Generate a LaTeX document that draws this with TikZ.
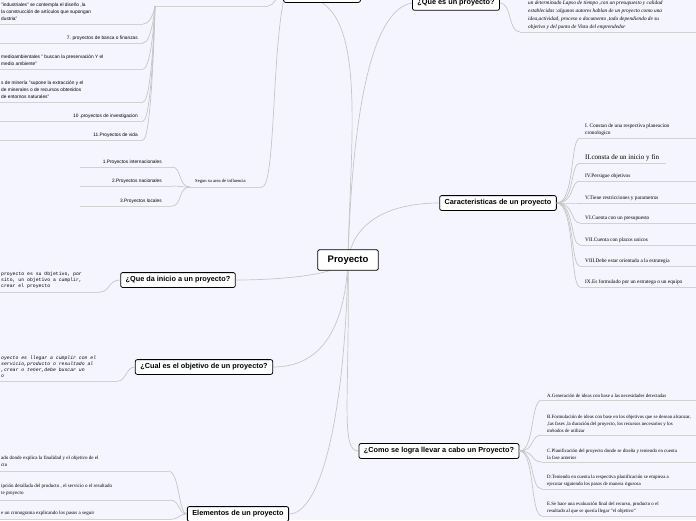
\documentclass[tikz,border=0pt]{standalone}
\usepackage{fontspec}
\setmainfont{Liberation Serif}
\setsansfont{Liberation Sans}
\setmonofont{Liberation Mono}
\pgfdeclarelayer{bg}
\pgfdeclarelayer{back}
\pgfsetlayers{back,bg,main}
\begin{document}
\begin{tikzpicture}[x=1pt,y=-1pt,
 topic/.style={draw=black,fill=white,rounded corners=2pt,line width=0.8pt,font=\sffamily\bfseries\fontsize{7.3}{8}\selectfont,inner xsep=5pt,inner ysep=4pt},
 main/.style={topic,font=\sffamily\bfseries\fontsize{9.5}{10}\selectfont,inner xsep=10pt,inner ysep=6pt},
 sl/.style={font=\sffamily\fontsize{4.8}{7}\selectfont,align=left,inner sep=1pt},
 sr/.style={font=\sffamily\fontsize{4.8}{7}\selectfont,align=right,inner sep=1pt},
 rl/.style={font=\fontsize{5.3}{7.2}\selectfont,align=left,inner sep=1pt},
 ml/.style={font=\ttfamily\fontsize{4.8}{6.2}\selectfont,align=left,inner sep=1pt},
 br/.style={draw=gray!45,line width=0.7pt},
 ul/.style={draw=gray!35,line width=0.6pt}]
\begin{pgfonlayer}{back}
\fill[blue!4!white] (0,0) rectangle (696,520);
\end{pgfonlayer}
\useasboundingbox (0,0) rectangle (696,520);

\node[main] (p) at (348,260) {Proyecto};
\node[topic] (tipos) at (322,-5) {Tipos de proyectos};
\node[topic] (que) at (456,3) {¿Que es un proyecto?};
\node[topic] (car) at (498,203) {Caracteristicas de un proyecto};
\node[topic] (ini) at (178,280) {¿Que da inicio a un proyecto?};
\node[topic] (obj) at (204,367) {¿Cual es el objetivo de un proyecto?};
\node[topic] (como) at (439,451) {¿Como se logra llevar a cabo un Proyecto?};
\node[topic] (ele) at (238,514) {Elementos de un proyecto};

\begin{pgfonlayer}{bg}
\draw[br] (p.center) .. controls (350,150) and (365,30) .. (tipos.south);
\draw[br] (p.center) .. controls (352,120) and (370,10) .. (que.west);
\draw[br] (p.center) .. controls (355,215) and (400,203) .. (car.west);
\draw[br] (p.center) .. controls (340,275) and (280,280) .. (ini.east);
\draw[br] (p.center) .. controls (345,330) and (320,367) .. (obj.east);
\draw[br] (p.center) .. controls (350,400) and (340,451) .. (como.west);
\draw[br] (p.center) .. controls (345,420) and (320,514) .. (ele.east);
\end{pgfonlayer}

% Que es leaf
\node[rl,anchor=south west,font=\itshape\fontsize{5.3}{7.9}\selectfont] (qel) at (527,31) {un determinado Lapso de tiempo ,con un presupuesto y calidad\\establecidas :algunos autores hablan de un proyecto como una\\idea,actividad, proceso o documento ,todo dependiendo de su\\objetivo y del punto de Vista del emprendedor};
\coordinate (qa) at (520,32);
\draw[ul] (qa) -- (696,32);
\draw[br] (que.east) .. controls (512,3) and (508,32) .. (qa);

% Caracteristicas leaves
\coordinate (cs) at (car.east);
\foreach \n/\y/\txt in {c1/138/{I. Constan de una respectiva planeacion\\cronologico},c3/181/{IV.Persigue objetivos},c4/203/{V.Tiene restricciones y parametros},c5/223/{VI.Cuenta con un presupuesto},c6/245/{VII.Cuenta con plazos unicos},c7/266/{VIII.Debe estar orientada a la estrategia},c8/287/{IX.Es formulado por un estratega o un equipo}}{
  \node[rl,anchor=south west] (\n) at (584,\y-1) {\txt};
  \draw[ul] (580,\y) -- (696,\y);
  \draw[br] (cs) .. controls (575,203) and (570,\y) .. (580,\y);
}
\node[rl,anchor=south west,font=\fontsize{7}{8}\selectfont] (c2) at (584,162) {II.consta de un inicio y fin};
\draw[ul] (580,163) -- (666,163);
\draw[br] (cs) .. controls (575,203) and (570,163) .. (580,163);

% Como leaves
\coordinate (cm) at (como.east);
\foreach \n/\y/\txt in {k1/400/{A.Generación de ideas con base a las necesidades detectadas},k2/435/{B.Formulación de ideas con base en los objetivos que se desean alcanzar,\\,las fases ,la duración del proyecto, los recursos necesarios y los\\métodos de utilizar},k3/462/{C.Planificación del proyecto donde se diseña y teniendo en cuenta\\la fase anterior},k4/489/{D.Teniendo en cuenta la respectiva planificación se empieza a\\ejecutar siguiendo los pasos  de manera rigurosa},k5/516/{E.Se hace una evaluación final del recurso, producto o el\\resultado al que se quería llegar "el objetivo"}}{
  \node[rl,anchor=south west,font=\fontsize{4.9}{7.2}\selectfont] (\n) at (546,\y-1) {\txt};
  \draw[ul] (542,\y) -- (696,\y);
  \draw[br] (cm) .. controls (535,451) and (530,\y) .. (542,\y);
}

% Tipos: segun desempeno
\node[rl,anchor=south west,font=\fontsize{4.6}{6}\selectfont] (s1) at (196,1) {Segun su desempeño o actividad};
\coordinate (s1a) at (155,6);
\draw[ul] (s1a) -- (268,6);
\draw[br] (tipos.west) .. controls (275,-5) and (275,6) .. (268,6);
\foreach \y in {24,43,69,102,121,140}{
  \draw[ul] (0,\y) -- (143,\y);
  \draw[br] (s1a) .. controls (155,6) and (152,\y) .. (143,\y);
}
\node[sl,anchor=south west] (t6) at (0,22) {"industriales" se contempla el diseño ,la\\la construcción de artículos que supongan\\dustria"};
\node[sr,anchor=south east] (t7) at (139,42) {7. proyectos de banca o finanzas};
\node[sl,anchor=south west] (t8) at (0,67) {medioambientales " buscan la preservación Y el\\medio ambiente"};
\node[sl,anchor=south west] (t9) at (0,100) {s de minería "supone la extracción y el\\de minerales o de recursos obtenidos\\ de entornos naturales"};
\node[sr,anchor=south east] (t10) at (139,120) {10 .proyectos de investigacion};
\node[sr,anchor=south east] (t11) at (139,139) {11.Proyectos de vida};

% Tipos: segun area
\node[rl,anchor=south west,font=\fontsize{4.6}{6}\selectfont] (s2) at (194,185) {Segun su area de influencia};
\coordinate (s2a) at (190,187);
\draw[ul] (s2a) -- (262,187);
\draw[br] (tipos.south west) .. controls (272,60) and (275,187) .. (262,187);
\foreach \n/\y/\txt in {u1/167/{1.Proyectos internacionales},u2/186/{2.Proyectos nacionales},u3/206/{3.Proyectos locales}}{
  \node[sr,anchor=south east] (\n) at (163,\y-1) {\txt};
  \draw[ul] (80,\y) -- (172,\y);
  \draw[br] (s2a) .. controls (178,187) and (182,\y) .. (172,\y);
}

% Que da inicio leaf
\node[ml,anchor=south west] (il) at (0,290) {proyecto es su Objetivo, por\\sito, un objetivo a cumplir,\\crear el proyecto};
\draw[ul] (0,292) -- (100,292);
\draw[br] (ini.west) .. controls (108,280) and (110,292) .. (100,292);

% Cual es objetivo leaf
\node[ml,anchor=south west,font=\ttfamily\itshape\fontsize{4.8}{6.2}\selectfont] (ol) at (0,379) {oyecto es llegar a cumplir con el\\ servicio,producto o resultado al\\,crear o tener,debe buscar un\\o};
\draw[ul] (0,381) -- (118,381);
\draw[br] (obj.west) .. controls (126,367) and (126,381) .. (118,381);

% Elementos leaves
\node[rl,anchor=south west,font=\fontsize{5}{7.5}\selectfont] (e1) at (0,468) {ado donde explica la finalidad y el objetivo de el\\cto};
\node[rl,anchor=south west,font=\fontsize{5}{7.5}\selectfont] (e2) at (0,497) {ipción detallada del producto , el servicio  o el resultado\\te proyecto};
\node[rl,anchor=north west,font=\fontsize{5}{7.5}\selectfont] (e3) at (0,510) {e un cronograma explicando los pasos a seguir};
\draw[ul] (0,471) -- (168,471);
\draw[ul] (0,500) -- (170,500);
\draw[ul] (0,519) -- (172,519);
\draw[br] (ele.west) .. controls (178,514) and (180,471) .. (168,471);
\draw[br] (ele.west) .. controls (178,514) and (180,500) .. (170,500);
\draw[br] (ele.west) .. controls (178,514) and (180,519) .. (172,519);
\end{tikzpicture}
\end{document}
